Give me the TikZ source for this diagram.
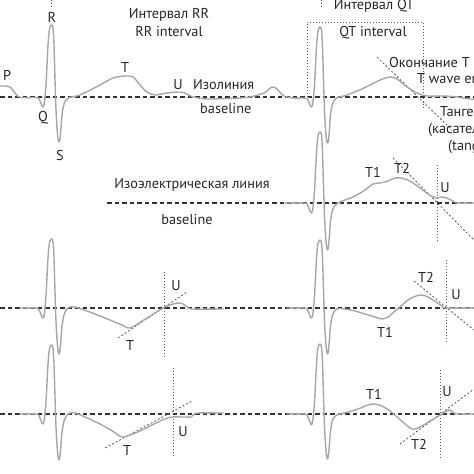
\documentclass[tikz,border=0pt]{standalone}
\usepackage{fontspec}
\setmainfont{PT Sans}
\begin{document}
\begin{tikzpicture}[x=1pt,y=-1pt,
  ecg/.style={draw=black!35, line width=1.4pt, line join=round, line cap=round},
  base/.style={draw=black!80, line width=1.1pt, dash pattern=on 4.5pt off 3pt},
  vdot/.style={draw=black!65, line width=0.8pt, dash pattern=on 1.2pt off 1.8pt},
  tang/.style={draw=black!65, line width=0.8pt, dash pattern=on 2pt off 2pt},
  lbl/.style={font=\fontsize{14.3}{16}\selectfont, text=black!85, inner sep=0pt},
]
\useasboundingbox (0,0) rectangle (474,474);
\clip (0,0) rectangle (474,474);

% ---------- baselines ----------
\draw[base] (0,97) -- (474,97);
\draw[base] (107,203) -- (474,203);
\draw[base] (0,308) -- (474,308);
\draw[base] (0,414) -- (474,414);

% ---------- dotted guides ----------
\draw[vdot] (51,0) -- (51,8);
\draw[vdot] (321,0) -- (321,8);
\draw[vdot] (307,97) -- (307,22) -- (423,22) -- (423,108);
\draw[tang] (377,57) -- (452,130);
\draw[vdot] (437,165) -- (437,242);
\draw[tang] (393,158) -- (474,240);
\draw[vdot] (164,272) -- (164,358);
\draw[tang] (118,338) -- (187,292);
\draw[vdot] (446,260) -- (446,344);
\draw[tang] (414,281) -- (474,330);
\draw[vdot] (173,368) -- (173,457);
\draw[tang] (105,448) -- (192,401);
\draw[vdot] (440,370) -- (440,459);
\draw[tang] (400,444) -- (474,389);

% ---------- row 1 trace ----------
\draw[ecg] plot[smooth, tension=0.5] coordinates {
 (-2,86) (4,86) (10,87) (15,93) (20,97.5) (36,97.5)
 (39,99) (42,106) (43,107) (44,105) (45,97)
 (46,85) (47,65) (48,45) (49,33) (50,27) (51.5,25) (53,28) (54,45) (55,80)
 (56,110) (57,128) (58,139) (59,142) (60,139) (61,128) (62,115) (64,104) (67,99) (71,97)
 (80,95) (100,85) (113,78) (125,76) (133,77) (140,85) (147,92) (155,95) (167,93) (180,92) (187,94) (193,97) (207,99) (227,98.5) (240,98) (250,97) (264,93) (272,87) (277,89) (284,96) (294,98) (304.5,98)
 (307.5,99) (310.5,106) (311.5,107) (312.5,105) (313.5,97)
 (314.5,85) (315.5,66) (316.5,47) (317.5,35) (318.5,29) (320,27) (321.5,30) (322.5,47) (323.5,80)
 (324.5,110) (325.5,129) (326.5,140) (327.5,143) (328.5,140) (329.5,129) (330.5,115) (332.5,104) (335.5,99) (339.5,97)
 (347,95) (364,88) (380,80) (390,77) (397,79) (407,87) (417,93) (427,96) (444,96) (457,97) (470,99) (476,99)
};

% ---------- row 2 trace ----------
\draw[ecg] plot[smooth, tension=0.5] coordinates {
 (285,203) (304.5,203)
 (307.5,205) (310.5,212) (311.5,213) (312.5,211) (313.5,203)
 (314.5,191) (315.5,172) (316.5,153) (317.5,140) (318.5,134) (320,132) (321.5,135) (322.5,153) (323.5,186)
 (324.5,216) (325.5,235) (326.5,246) (327.5,250) (328.5,246) (329.5,235) (330.5,221) (332.5,210) (336,204.5) (340,202)
 (345,200) (355,196) (365,190) (373,184) (380,183) (388,181) (395,178) (401,178) (408,180) (416,185) (424,191) (431,196) (437,198) (442,197) (447,198) (453,201) (458,203) (476,203)
};

% ---------- row 3 traces ----------
\draw[ecg] plot[smooth, tension=0.5] coordinates {
 (20,308) (36,308)
 (39,310) (42,317) (43,318) (44,316) (45,308)
 (46,296) (47,277) (48,258) (49,246) (50,241) (51.5,239) (53,242) (54,258) (55,291)
 (56,321) (57,339) (58,350) (59,354) (60,350) (61,339) (62,326) (64,315) (67,308.5) (70,307) (77,307.5)
 (100,316) (122,325) (130,328) (147,318) (163,308) (170,305) (178,303) (183,304) (188,307.5) (193,309) (223,309)
};
\draw[ecg] plot[smooth, tension=0.5] coordinates {
 (287,308) (304.5,308)
 (307.5,310) (310.5,317) (311.5,318) (312.5,316) (313.5,308)
 (314.5,296) (315.5,277) (316.5,258) (317.5,246) (318.5,242) (320,240) (321.5,243) (322.5,258) (323.5,291)
 (324.5,321) (325.5,339) (326.5,350) (327.5,354) (328.5,350) (329.5,339) (330.5,326) (332.5,315) (335.5,310) (339.5,308.5)
 (345,309) (355,311) (365,314) (375,317) (382,319) (388,317) (395,311) (400,307) (408,300) (416,296) (422,295) (428,297) (436,302) (442,306) (446,308) (476,308)
};

% ---------- row 4 traces ----------
\draw[ecg] plot[smooth, tension=0.5] coordinates {
 (20,414) (36,414)
 (39,416) (42,423) (43,424) (44,422) (45,414)
 (46,402) (47,383) (48,364) (49,352) (50,347) (51.5,345) (53,348) (54,364) (55,397)
 (56,427) (57,445) (58,456) (59,460) (60,456) (61,445) (62,432) (64,421) (67,415) (70,413) (77,413.5)
 (100,424) (114,432) (122,437) (130,435) (140,431) (150,426) (158,422) (165,419) (172,417) (185,417) (191,417) (194,414.5) (198,413) (223,413)
};
\draw[ecg] plot[smooth, tension=0.5] coordinates {
 (287,414) (304.5,414)
 (307.5,416) (310.5,423) (311.5,425) (312.5,422) (313.5,414)
 (314.5,402) (315.5,383) (316.5,364) (317.5,351) (318.5,346) (320,344) (321.5,347) (322.5,363) (323.5,396)
 (324.5,426) (325.5,444) (326.5,455) (327.5,459) (328.5,455) (329.5,444) (330.5,431) (332.5,420) (335.5,416) (339.5,414)
 (348,412) (358,409) (368,405) (375,404) (382,406) (390,411) (396,416) (404,423) (410,428) (415,429) (422,426) (430,421) (437,417) (442,414) (446,411) (450,410) (454,413) (460,414) (476,414)
};

% ---------- labels row 1 ----------
\node[lbl] (lP) at (7,75) {P};
\node[lbl] (lR) at (52,17) {R};
\node[lbl] (lQ) at (43,118) {Q};
\node[lbl] (lS) at (60,155) {S};
\node[lbl] (lT) at (125,67) {T};
\node[lbl] (lU) at (178,85) {U};
\node[lbl, anchor=west] (liso) at (193,85) {Изолиния};
\node[lbl, anchor=west] (lbase1) at (200,109) {baseline};
\node[lbl] (lrr1) at (169,15) {Интервал RR};
\node[lbl] (lrr2) at (169,32) {RR interval};
\node[lbl] (lqt1) at (374,6) {Интервал QT};
\node[lbl] (lqt2) at (373,33) {QT interval};
\node[lbl, anchor=west] (lend1) at (389,62) {Окончание T};
\node[lbl, anchor=west] (lend2) at (417,79) {T wave end};
\node[lbl, anchor=west] (ltan1) at (440,112) {Тангенс};
\node[lbl, anchor=west] (ltan2) at (428,130) {(касательная)};
\node[lbl, anchor=west] (ltan3) at (448,147) {(tangent)};

% ---------- labels row 2 ----------
\node[lbl] (liso2) at (192,185) {Изоэлектрическая линия};
\node[lbl] (lbase2) at (187,220) {baseline};
\node[lbl] (r2T1) at (373,172) {T1};
\node[lbl] (r2T2) at (402,168) {T2};
\node[lbl] (r2U) at (445,188) {U};

% ---------- labels row 3 ----------
\node[lbl] (r3T) at (130,345) {T};
\node[lbl] (r3U) at (176,286) {U};
\node[lbl] (r3T2) at (426,277) {T2};
\node[lbl] (r3U2) at (456,295) {U};
\node[lbl] (r3T1) at (385,332) {T1};

% ---------- labels row 4 ----------
\node[lbl] (r4T) at (127,450) {T};
\node[lbl] (r4U) at (183,432) {U};
\node[lbl] (r4T1) at (374,394) {T1};
\node[lbl] (r4U2) at (447,392) {U};
\node[lbl] (r4T2) at (419,444) {T2};
\end{tikzpicture}
\end{document}
